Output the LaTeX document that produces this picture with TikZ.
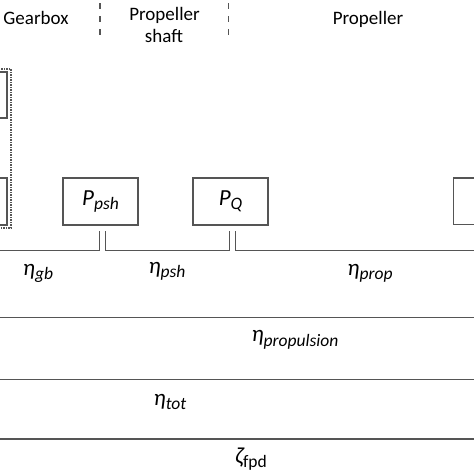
\documentclass[tikz,border=0pt]{standalone}
\usepackage{fontspec}
\setmainfont{Carlito}
\definecolor{lc}{HTML}{555555}
\newcommand\mysub[1]{\raisebox{-4.5pt}{\fontsize{17.5}{20}\selectfont #1}}
\begin{document}
\begin{tikzpicture}[x=1pt,y=-1pt,
  ln/.style={draw=lc, line width=1.4pt},
  boxst/.style={draw=lc, line width=1.4pt},
  dotbox/.style={draw=lc, line width=1.3pt, dash pattern=on 1.3pt off 1.2pt},
  sect/.style={draw=lc, line width=1.2pt, dash pattern=on 6pt off 7pt},
  lab/.style={font=\fontsize{19}{22}\selectfont, anchor=base, inner sep=0pt, text=black},
  eta/.style={font=\fontsize{23}{26}\selectfont\itshape, anchor=base, inner sep=0pt, text=black}]
\useasboundingbox (0,0) rectangle (474,474);
\clip (0,0) rectangle (474,474);
% section labels
\node[lab] (tgb) at (36,24.3) {Gearbox};
\node[lab] (tps1) at (164.5,20) {Propeller};
\node[lab] (tps2) at (164,42.7) {shaft};
\node[lab] (tpr) at (368,24) {Propeller};
\coordinate (d1t) at (100,3); \coordinate (d1b) at (100,40);
\coordinate (d2t) at (228.7,3); \coordinate (d2b) at (228.7,40);
\draw[sect] (d1t) -- (d1b);
\draw[sect] (d2t) -- (d2b);
% left dotted group
\draw[dotbox] (-20,69) rectangle (11,228);
\draw[boxst] (-20,72) rectangle (7,118);
\draw[boxst] (-20,178) rectangle (7,225);
% power boxes
\node[boxst, minimum width=75pt, minimum height=47pt, inner sep=0pt] (ppsh) at (100.5,201.5) {};
\node[eta, anchor=center] at (ppsh.center) {P\mysub{psh}};
\node[boxst, minimum width=75pt, minimum height=47pt, inner sep=0pt] (pq) at (230.5,201.5) {};
\node[eta, anchor=center] at (pq.center) {P\mysub{Q}};
\draw[boxst] (453.3,178) rectangle (520,224.5);
% brackets
\coordinate (l0) at (-5,250.7);
\coordinate (a1) at (99.3,250.7); \coordinate (a1t) at (99.3,231);
\coordinate (a2) at (105.3,250.7); \coordinate (a2t) at (105.3,231);
\coordinate (b1) at (229.3,250.7); \coordinate (b1t) at (229.3,231);
\coordinate (b2) at (235.3,250.7); \coordinate (b2t) at (235.3,231);
\coordinate (r0) at (480,250.7);
\draw[ln] (l0) -- (a1) -- (a1t);
\draw[ln] (a2t) -- (a2) -- (b1) -- (b1t);
\draw[ln] (b2t) -- (b2) -- (r0);
\node[eta] (egb) at (38,275) {η\mysub{gb}};
\node[eta] (epsh) at (167,273) {η\mysub{psh}};
\node[eta] (eprop) at (370,275) {η\mysub{prop}};
% total lines
\coordinate (h1l) at (-5,317.7); \coordinate (h1r) at (480,317.7);
\coordinate (h2l) at (-5,379.7); \coordinate (h2r) at (480,379.7);
\coordinate (h3l) at (-5,439); \coordinate (h3r) at (480,439);
\draw[ln] (h1l) -- (h1r);
\draw[ln] (h2l) -- (h2r);
\draw[ln] (h3l) -- (h3r);
\node[eta] (eprl) at (295,341.7) {η\mysub{propulsion}};
\node[eta] (etot) at (170,405) {η\mysub{tot}};
\node[eta] (zfpd) at (251,463) {ζ\mysub{\upshape fpd}};
\end{tikzpicture}
\end{document}
